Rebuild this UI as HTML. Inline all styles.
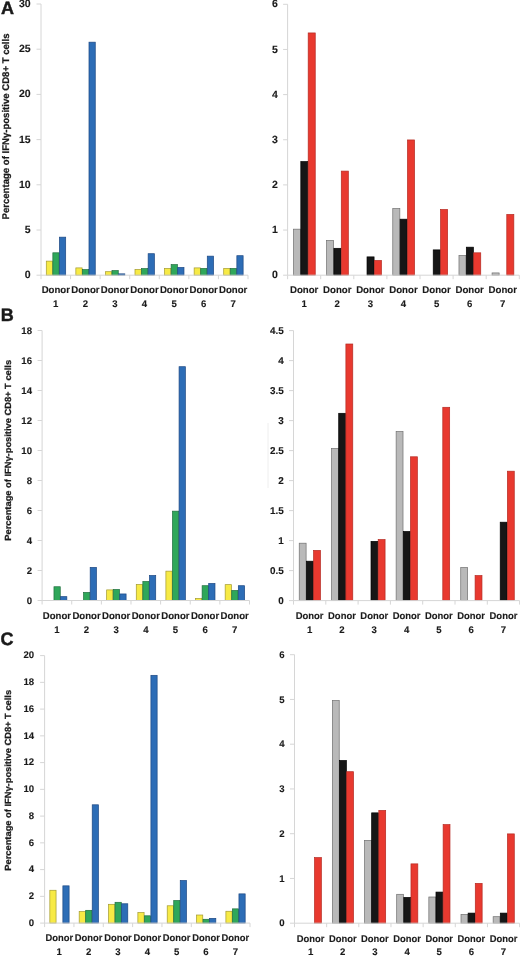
<!DOCTYPE html>
<html lang="en">
<head>
<meta charset="utf-8">
<title>IFN-gamma positive CD8+ T cells per donor</title>
<style>
html,body{margin:0;padding:0;background:#fff;}
body{width:520px;height:956px;overflow:hidden;}
svg{display:block;}
text{font-family:"Liberation Sans", sans-serif;fill:#1a1a1a;text-rendering:geometricPrecision;}
.b{font-weight:bold;stroke:#1a1a1a;stroke-width:0.12px;}
</style>
</head>
<body>
<svg width="520" height="956" viewBox="0 0 520 956">
<rect x="0" y="0" width="520" height="956" fill="#ffffff"/>
<g id="AL">
<rect x="46.28" y="261.12" width="6.27" height="14.08" fill="#f7ea45" stroke="#a39a30" stroke-width="0.7"/>
<rect x="52.85" y="252.8" width="6.27" height="22.4" fill="#2fa75a" stroke="#1f6e3e" stroke-width="0.7"/>
<rect x="59.42" y="237.16" width="6.27" height="38.04" fill="#2d6db6" stroke="#1d4883" stroke-width="0.7"/>
<rect x="75.85" y="267.9" width="6.27" height="7.3" fill="#f7ea45" stroke="#a39a30" stroke-width="0.7"/>
<rect x="82.42" y="269.61" width="6.27" height="5.59" fill="#2fa75a" stroke="#1f6e3e" stroke-width="0.7"/>
<rect x="88.99" y="42.17" width="6.27" height="233.03" fill="#2d6db6" stroke="#1d4883" stroke-width="0.7"/>
<rect x="105.42" y="271.69" width="6.27" height="3.51" fill="#f7ea45" stroke="#a39a30" stroke-width="0.7"/>
<rect x="111.99" y="270.61" width="6.27" height="4.59" fill="#2fa75a" stroke="#1f6e3e" stroke-width="0.7"/>
<rect x="118.56" y="273.86" width="6.27" height="1.34" fill="#2d6db6" stroke="#1d4883" stroke-width="0.7"/>
<rect x="134.99" y="269.43" width="6.27" height="5.77" fill="#f7ea45" stroke="#a39a30" stroke-width="0.7"/>
<rect x="141.56" y="268.62" width="6.27" height="6.58" fill="#2fa75a" stroke="#1f6e3e" stroke-width="0.7"/>
<rect x="148.14" y="253.7" width="6.27" height="21.5" fill="#2d6db6" stroke="#1d4883" stroke-width="0.7"/>
<rect x="164.56" y="268.44" width="6.27" height="6.76" fill="#f7ea45" stroke="#a39a30" stroke-width="0.7"/>
<rect x="171.14" y="264.64" width="6.27" height="10.56" fill="#2fa75a" stroke="#1f6e3e" stroke-width="0.7"/>
<rect x="177.71" y="267.44" width="6.27" height="7.76" fill="#2d6db6" stroke="#1d4883" stroke-width="0.7"/>
<rect x="194.14" y="267.9" width="6.27" height="7.3" fill="#f7ea45" stroke="#a39a30" stroke-width="0.7"/>
<rect x="200.71" y="268.44" width="6.27" height="6.76" fill="#2fa75a" stroke="#1f6e3e" stroke-width="0.7"/>
<rect x="207.28" y="256.14" width="6.27" height="19.06" fill="#2d6db6" stroke="#1d4883" stroke-width="0.7"/>
<rect x="223.71" y="268.44" width="6.27" height="6.76" fill="#f7ea45" stroke="#a39a30" stroke-width="0.7"/>
<rect x="230.28" y="268.44" width="6.27" height="6.76" fill="#2fa75a" stroke="#1f6e3e" stroke-width="0.7"/>
<rect x="236.85" y="255.69" width="6.27" height="19.51" fill="#2d6db6" stroke="#1d4883" stroke-width="0.7"/>
<path d="M41 4 V275.2 H248" fill="none" stroke="#d6d6d6" stroke-width="1"/>
<path d="M36.5 275.2H41M36.5 230H41M36.5 184.8H41M36.5 139.6H41M36.5 94.4H41M36.5 49.2H41M36.5 4H41M41 275.2V279.2M70.57 275.2V279.2M100.14 275.2V279.2M129.71 275.2V279.2M159.29 275.2V279.2M188.86 275.2V279.2M218.43 275.2V279.2M248 275.2V279.2" fill="none" stroke="#d6d6d6" stroke-width="1"/>
<text class="b" x="30.6" y="278.22" font-size="10.5" text-anchor="end">0</text>
<text class="b" x="30.6" y="233.02" font-size="10.5" text-anchor="end">5</text>
<text class="b" x="30.6" y="187.82" font-size="10.5" text-anchor="end">10</text>
<text class="b" x="30.6" y="142.62" font-size="10.5" text-anchor="end">15</text>
<text class="b" x="30.6" y="97.42" font-size="10.5" text-anchor="end">20</text>
<text class="b" x="30.6" y="52.22" font-size="10.5" text-anchor="end">25</text>
<text class="b" x="30.6" y="7.02" font-size="10.5" text-anchor="end">30</text>
<text class="b" x="55.79" y="293.2" font-size="9.9" text-anchor="middle" textLength="28.3" lengthAdjust="spacingAndGlyphs">Donor</text>
<text class="b" x="55.79" y="306.7" font-size="9.6" text-anchor="middle">1</text>
<text class="b" x="85.36" y="293.2" font-size="9.9" text-anchor="middle" textLength="28.3" lengthAdjust="spacingAndGlyphs">Donor</text>
<text class="b" x="85.36" y="306.7" font-size="9.6" text-anchor="middle">2</text>
<text class="b" x="114.93" y="293.2" font-size="9.9" text-anchor="middle" textLength="28.3" lengthAdjust="spacingAndGlyphs">Donor</text>
<text class="b" x="114.93" y="306.7" font-size="9.6" text-anchor="middle">3</text>
<text class="b" x="144.5" y="293.2" font-size="9.9" text-anchor="middle" textLength="28.3" lengthAdjust="spacingAndGlyphs">Donor</text>
<text class="b" x="144.5" y="306.7" font-size="9.6" text-anchor="middle">4</text>
<text class="b" x="174.07" y="293.2" font-size="9.9" text-anchor="middle" textLength="28.3" lengthAdjust="spacingAndGlyphs">Donor</text>
<text class="b" x="174.07" y="306.7" font-size="9.6" text-anchor="middle">5</text>
<text class="b" x="203.64" y="293.2" font-size="9.9" text-anchor="middle" textLength="28.3" lengthAdjust="spacingAndGlyphs">Donor</text>
<text class="b" x="203.64" y="306.7" font-size="9.6" text-anchor="middle">6</text>
<text class="b" x="233.21" y="293.2" font-size="9.9" text-anchor="middle" textLength="28.3" lengthAdjust="spacingAndGlyphs">Donor</text>
<text class="b" x="233.21" y="306.7" font-size="9.6" text-anchor="middle">7</text>
</g>
<g id="AR">
<rect x="293.47" y="229.17" width="7.06" height="46.03" fill="#b9b9b9" stroke="#707070" stroke-width="0.7"/>
<rect x="300.82" y="161.62" width="7.06" height="113.58" fill="#161616" stroke="#000000" stroke-width="0.7"/>
<rect x="308.18" y="32.94" width="7.06" height="242.26" fill="#e8392f" stroke="#b52a22" stroke-width="0.7"/>
<rect x="326.57" y="240.41" width="7.06" height="34.79" fill="#b9b9b9" stroke="#707070" stroke-width="0.7"/>
<rect x="333.92" y="248.31" width="7.06" height="26.89" fill="#161616" stroke="#000000" stroke-width="0.7"/>
<rect x="341.28" y="171.1" width="7.06" height="104.1" fill="#e8392f" stroke="#b52a22" stroke-width="0.7"/>
<rect x="367.02" y="256.89" width="7.06" height="18.31" fill="#161616" stroke="#000000" stroke-width="0.7"/>
<rect x="374.38" y="260.5" width="7.06" height="14.7" fill="#e8392f" stroke="#b52a22" stroke-width="0.7"/>
<rect x="392.77" y="208.58" width="7.06" height="66.62" fill="#b9b9b9" stroke="#707070" stroke-width="0.7"/>
<rect x="400.12" y="219.19" width="7.06" height="56.01" fill="#161616" stroke="#000000" stroke-width="0.7"/>
<rect x="407.48" y="139.95" width="7.06" height="135.25" fill="#e8392f" stroke="#b52a22" stroke-width="0.7"/>
<rect x="433.22" y="249.89" width="7.06" height="25.31" fill="#161616" stroke="#000000" stroke-width="0.7"/>
<rect x="440.58" y="209.48" width="7.06" height="65.72" fill="#e8392f" stroke="#b52a22" stroke-width="0.7"/>
<rect x="458.97" y="255.53" width="7.06" height="19.67" fill="#b9b9b9" stroke="#707070" stroke-width="0.7"/>
<rect x="466.32" y="247.18" width="7.06" height="28.02" fill="#161616" stroke="#000000" stroke-width="0.7"/>
<rect x="473.68" y="252.82" width="7.06" height="22.38" fill="#e8392f" stroke="#b52a22" stroke-width="0.7"/>
<rect x="492.07" y="272.92" width="7.06" height="2.28" fill="#b9b9b9" stroke="#707070" stroke-width="0.7"/>
<rect x="506.78" y="214.45" width="7.06" height="60.75" fill="#e8392f" stroke="#b52a22" stroke-width="0.7"/>
<path d="M287.6 4.3 V275.2 H519.3" fill="none" stroke="#d6d6d6" stroke-width="1"/>
<path d="M283.1 275.2H287.6M283.1 230.05H287.6M283.1 184.9H287.6M283.1 139.75H287.6M283.1 94.6H287.6M283.1 49.45H287.6M283.1 4.3H287.6M287.6 275.2V279.2M320.7 275.2V279.2M353.8 275.2V279.2M386.9 275.2V279.2M420 275.2V279.2M453.1 275.2V279.2M486.2 275.2V279.2M519.3 275.2V279.2" fill="none" stroke="#d6d6d6" stroke-width="1"/>
<text class="b" x="277.8" y="278.32" font-size="10.5" text-anchor="end">0</text>
<text class="b" x="277.8" y="233.17" font-size="10.5" text-anchor="end">1</text>
<text class="b" x="277.8" y="188.02" font-size="10.5" text-anchor="end">2</text>
<text class="b" x="277.8" y="142.87" font-size="10.5" text-anchor="end">3</text>
<text class="b" x="277.8" y="97.72" font-size="10.5" text-anchor="end">4</text>
<text class="b" x="277.8" y="52.57" font-size="10.5" text-anchor="end">5</text>
<text class="b" x="277.8" y="7.42" font-size="10.5" text-anchor="end">6</text>
<text class="b" x="304.15" y="293.2" font-size="9.8" text-anchor="middle" textLength="28.4" lengthAdjust="spacingAndGlyphs">Donor</text>
<text class="b" x="304.15" y="306.9" font-size="9.6" text-anchor="middle">1</text>
<text class="b" x="337.25" y="293.2" font-size="9.8" text-anchor="middle" textLength="28.4" lengthAdjust="spacingAndGlyphs">Donor</text>
<text class="b" x="337.25" y="306.9" font-size="9.6" text-anchor="middle">2</text>
<text class="b" x="370.35" y="293.2" font-size="9.8" text-anchor="middle" textLength="28.4" lengthAdjust="spacingAndGlyphs">Donor</text>
<text class="b" x="370.35" y="306.9" font-size="9.6" text-anchor="middle">3</text>
<text class="b" x="403.45" y="293.2" font-size="9.8" text-anchor="middle" textLength="28.4" lengthAdjust="spacingAndGlyphs">Donor</text>
<text class="b" x="403.45" y="306.9" font-size="9.6" text-anchor="middle">4</text>
<text class="b" x="436.55" y="293.2" font-size="9.8" text-anchor="middle" textLength="28.4" lengthAdjust="spacingAndGlyphs">Donor</text>
<text class="b" x="436.55" y="306.9" font-size="9.6" text-anchor="middle">5</text>
<text class="b" x="469.65" y="293.2" font-size="9.8" text-anchor="middle" textLength="28.4" lengthAdjust="spacingAndGlyphs">Donor</text>
<text class="b" x="469.65" y="306.9" font-size="9.6" text-anchor="middle">6</text>
<text class="b" x="502.75" y="293.2" font-size="9.8" text-anchor="middle" textLength="28.4" lengthAdjust="spacingAndGlyphs">Donor</text>
<text class="b" x="502.75" y="306.9" font-size="9.6" text-anchor="middle">7</text>
</g>
<g id="BL">
<rect x="53.97" y="586.75" width="6.28" height="13.75" fill="#2fa75a" stroke="#1f6e3e" stroke-width="0.7"/>
<rect x="60.56" y="596.65" width="6.28" height="3.85" fill="#2d6db6" stroke="#1d4883" stroke-width="0.7"/>
<rect x="83.6" y="592.45" width="6.28" height="8.05" fill="#2fa75a" stroke="#1f6e3e" stroke-width="0.7"/>
<rect x="90.18" y="567.4" width="6.28" height="33.1" fill="#2d6db6" stroke="#1d4883" stroke-width="0.7"/>
<rect x="106.65" y="589.9" width="6.28" height="10.6" fill="#f7ea45" stroke="#a39a30" stroke-width="0.7"/>
<rect x="113.23" y="589.45" width="6.28" height="11.05" fill="#2fa75a" stroke="#1f6e3e" stroke-width="0.7"/>
<rect x="119.81" y="593.95" width="6.28" height="6.55" fill="#2d6db6" stroke="#1d4883" stroke-width="0.7"/>
<rect x="136.27" y="584.5" width="6.28" height="16" fill="#f7ea45" stroke="#a39a30" stroke-width="0.7"/>
<rect x="142.86" y="581.5" width="6.28" height="19" fill="#2fa75a" stroke="#1f6e3e" stroke-width="0.7"/>
<rect x="149.44" y="575.5" width="6.28" height="25" fill="#2d6db6" stroke="#1d4883" stroke-width="0.7"/>
<rect x="165.9" y="571.15" width="6.28" height="29.35" fill="#f7ea45" stroke="#a39a30" stroke-width="0.7"/>
<rect x="172.49" y="511.15" width="6.28" height="89.35" fill="#2fa75a" stroke="#1f6e3e" stroke-width="0.7"/>
<rect x="179.07" y="366.7" width="6.28" height="233.8" fill="#2d6db6" stroke="#1d4883" stroke-width="0.7"/>
<rect x="195.53" y="598.45" width="6.28" height="2.05" fill="#f7ea45" stroke="#a39a30" stroke-width="0.7"/>
<rect x="202.12" y="585.7" width="6.28" height="14.8" fill="#2fa75a" stroke="#1f6e3e" stroke-width="0.7"/>
<rect x="208.7" y="583.45" width="6.28" height="17.05" fill="#2d6db6" stroke="#1d4883" stroke-width="0.7"/>
<rect x="225.16" y="584.65" width="6.28" height="15.85" fill="#f7ea45" stroke="#a39a30" stroke-width="0.7"/>
<rect x="231.74" y="590.5" width="6.28" height="10" fill="#2fa75a" stroke="#1f6e3e" stroke-width="0.7"/>
<rect x="238.33" y="585.7" width="6.28" height="14.8" fill="#2d6db6" stroke="#1d4883" stroke-width="0.7"/>
<path d="M42.1 330.5 V600.5 H249.5" fill="none" stroke="#d6d6d6" stroke-width="1"/>
<path d="M37.6 600.5H42.1M37.6 570.5H42.1M37.6 540.5H42.1M37.6 510.5H42.1M37.6 480.5H42.1M37.6 450.5H42.1M37.6 420.5H42.1M37.6 390.5H42.1M37.6 360.5H42.1M37.6 330.5H42.1M42.1 600.5V604.5M71.73 600.5V604.5M101.36 600.5V604.5M130.99 600.5V604.5M160.61 600.5V604.5M190.24 600.5V604.5M219.87 600.5V604.5M249.5 600.5V604.5" fill="none" stroke="#d6d6d6" stroke-width="1"/>
<text class="b" x="32" y="603.72" font-size="9.6" text-anchor="end">0</text>
<text class="b" x="32" y="573.72" font-size="9.6" text-anchor="end">2</text>
<text class="b" x="32" y="543.72" font-size="9.6" text-anchor="end">4</text>
<text class="b" x="32" y="513.72" font-size="9.6" text-anchor="end">6</text>
<text class="b" x="32" y="483.72" font-size="9.6" text-anchor="end">8</text>
<text class="b" x="32" y="453.72" font-size="9.6" text-anchor="end">10</text>
<text class="b" x="32" y="423.72" font-size="9.6" text-anchor="end">12</text>
<text class="b" x="32" y="393.72" font-size="9.6" text-anchor="end">14</text>
<text class="b" x="32" y="363.72" font-size="9.6" text-anchor="end">16</text>
<text class="b" x="32" y="333.72" font-size="9.6" text-anchor="end">18</text>
<text class="b" x="56.91" y="618.9" font-size="9.9" text-anchor="middle" textLength="28.2" lengthAdjust="spacingAndGlyphs">Donor</text>
<text class="b" x="56.91" y="632.5" font-size="9.6" text-anchor="middle">1</text>
<text class="b" x="86.54" y="618.9" font-size="9.9" text-anchor="middle" textLength="28.2" lengthAdjust="spacingAndGlyphs">Donor</text>
<text class="b" x="86.54" y="632.5" font-size="9.6" text-anchor="middle">2</text>
<text class="b" x="116.17" y="618.9" font-size="9.9" text-anchor="middle" textLength="28.2" lengthAdjust="spacingAndGlyphs">Donor</text>
<text class="b" x="116.17" y="632.5" font-size="9.6" text-anchor="middle">3</text>
<text class="b" x="145.8" y="618.9" font-size="9.9" text-anchor="middle" textLength="28.2" lengthAdjust="spacingAndGlyphs">Donor</text>
<text class="b" x="145.8" y="632.5" font-size="9.6" text-anchor="middle">4</text>
<text class="b" x="175.43" y="618.9" font-size="9.9" text-anchor="middle" textLength="28.2" lengthAdjust="spacingAndGlyphs">Donor</text>
<text class="b" x="175.43" y="632.5" font-size="9.6" text-anchor="middle">5</text>
<text class="b" x="205.06" y="618.9" font-size="9.9" text-anchor="middle" textLength="28.2" lengthAdjust="spacingAndGlyphs">Donor</text>
<text class="b" x="205.06" y="632.5" font-size="9.6" text-anchor="middle">6</text>
<text class="b" x="234.69" y="618.9" font-size="9.9" text-anchor="middle" textLength="28.2" lengthAdjust="spacingAndGlyphs">Donor</text>
<text class="b" x="234.69" y="632.5" font-size="9.6" text-anchor="middle">7</text>
</g>
<g id="BR">
<rect x="299.23" y="543.2" width="6.88" height="57.4" fill="#b9b9b9" stroke="#707070" stroke-width="0.7"/>
<rect x="306.41" y="561.2" width="6.88" height="39.4" fill="#161616" stroke="#000000" stroke-width="0.7"/>
<rect x="313.59" y="550.4" width="6.88" height="50.2" fill="#e8392f" stroke="#b52a22" stroke-width="0.7"/>
<rect x="331.53" y="448.4" width="6.88" height="152.2" fill="#b9b9b9" stroke="#707070" stroke-width="0.7"/>
<rect x="338.71" y="413.3" width="6.88" height="187.3" fill="#161616" stroke="#000000" stroke-width="0.7"/>
<rect x="345.89" y="344" width="6.88" height="256.6" fill="#e8392f" stroke="#b52a22" stroke-width="0.7"/>
<rect x="371.01" y="541.4" width="6.88" height="59.2" fill="#161616" stroke="#000000" stroke-width="0.7"/>
<rect x="378.19" y="539.6" width="6.88" height="61" fill="#e8392f" stroke="#b52a22" stroke-width="0.7"/>
<rect x="396.13" y="431.6" width="6.88" height="169" fill="#b9b9b9" stroke="#707070" stroke-width="0.7"/>
<rect x="403.31" y="531.5" width="6.88" height="69.1" fill="#161616" stroke="#000000" stroke-width="0.7"/>
<rect x="410.49" y="456.8" width="6.88" height="143.8" fill="#e8392f" stroke="#b52a22" stroke-width="0.7"/>
<rect x="442.79" y="407.3" width="6.88" height="193.3" fill="#e8392f" stroke="#b52a22" stroke-width="0.7"/>
<rect x="460.73" y="567.5" width="6.88" height="33.1" fill="#b9b9b9" stroke="#707070" stroke-width="0.7"/>
<rect x="475.09" y="575.6" width="6.88" height="25" fill="#e8392f" stroke="#b52a22" stroke-width="0.7"/>
<rect x="500.21" y="522.2" width="6.88" height="78.4" fill="#161616" stroke="#000000" stroke-width="0.7"/>
<rect x="507.39" y="471.2" width="6.88" height="129.4" fill="#e8392f" stroke="#b52a22" stroke-width="0.7"/>
<path d="M293.5 330.6 V600.6 H519.6" fill="none" stroke="#d6d6d6" stroke-width="1"/>
<path d="M289 600.6H293.5M289 570.6H293.5M289 540.6H293.5M289 510.6H293.5M289 480.6H293.5M289 450.6H293.5M289 420.6H293.5M289 390.6H293.5M289 360.6H293.5M289 330.6H293.5M293.5 600.6V604.6M325.8 600.6V604.6M358.1 600.6V604.6M390.4 600.6V604.6M422.7 600.6V604.6M455 600.6V604.6M487.3 600.6V604.6M519.6 600.6V604.6" fill="none" stroke="#d6d6d6" stroke-width="1"/>
<text class="b" x="283.7" y="603.92" font-size="9.9" text-anchor="end">0</text>
<text class="b" x="283.7" y="573.92" font-size="9.9" text-anchor="end">0.5</text>
<text class="b" x="283.7" y="543.92" font-size="9.9" text-anchor="end">1</text>
<text class="b" x="283.7" y="513.92" font-size="9.9" text-anchor="end">1.5</text>
<text class="b" x="283.7" y="483.92" font-size="9.9" text-anchor="end">2</text>
<text class="b" x="283.7" y="453.92" font-size="9.9" text-anchor="end">2.5</text>
<text class="b" x="283.7" y="423.92" font-size="9.9" text-anchor="end">3</text>
<text class="b" x="283.7" y="393.92" font-size="9.9" text-anchor="end">3.5</text>
<text class="b" x="283.7" y="363.92" font-size="9.9" text-anchor="end">4</text>
<text class="b" x="283.7" y="333.92" font-size="9.9" text-anchor="end">4.5</text>
<text class="b" x="309.65" y="618.9" font-size="9.8" text-anchor="middle" textLength="27.8" lengthAdjust="spacingAndGlyphs">Donor</text>
<text class="b" x="309.65" y="632.5" font-size="9.6" text-anchor="middle">1</text>
<text class="b" x="341.95" y="618.9" font-size="9.8" text-anchor="middle" textLength="27.8" lengthAdjust="spacingAndGlyphs">Donor</text>
<text class="b" x="341.95" y="632.5" font-size="9.6" text-anchor="middle">2</text>
<text class="b" x="374.25" y="618.9" font-size="9.8" text-anchor="middle" textLength="27.8" lengthAdjust="spacingAndGlyphs">Donor</text>
<text class="b" x="374.25" y="632.5" font-size="9.6" text-anchor="middle">3</text>
<text class="b" x="406.55" y="618.9" font-size="9.8" text-anchor="middle" textLength="27.8" lengthAdjust="spacingAndGlyphs">Donor</text>
<text class="b" x="406.55" y="632.5" font-size="9.6" text-anchor="middle">4</text>
<text class="b" x="438.85" y="618.9" font-size="9.8" text-anchor="middle" textLength="27.8" lengthAdjust="spacingAndGlyphs">Donor</text>
<text class="b" x="438.85" y="632.5" font-size="9.6" text-anchor="middle">5</text>
<text class="b" x="471.15" y="618.9" font-size="9.8" text-anchor="middle" textLength="27.8" lengthAdjust="spacingAndGlyphs">Donor</text>
<text class="b" x="471.15" y="632.5" font-size="9.6" text-anchor="middle">6</text>
<text class="b" x="503.45" y="618.9" font-size="9.8" text-anchor="middle" textLength="27.8" lengthAdjust="spacingAndGlyphs">Donor</text>
<text class="b" x="503.45" y="632.5" font-size="9.6" text-anchor="middle">7</text>
</g>
<g id="CL">
<rect x="49.84" y="890.26" width="6.22" height="32.84" fill="#f7ea45" stroke="#a39a30" stroke-width="0.7"/>
<rect x="62.88" y="885.85" width="6.22" height="37.25" fill="#2d6db6" stroke="#1d4883" stroke-width="0.7"/>
<rect x="79.18" y="911.53" width="6.22" height="11.57" fill="#f7ea45" stroke="#a39a30" stroke-width="0.7"/>
<rect x="85.7" y="910.33" width="6.22" height="12.77" fill="#2fa75a" stroke="#1f6e3e" stroke-width="0.7"/>
<rect x="92.22" y="804.8" width="6.22" height="118.3" fill="#2d6db6" stroke="#1d4883" stroke-width="0.7"/>
<rect x="108.53" y="904.31" width="6.22" height="18.79" fill="#f7ea45" stroke="#a39a30" stroke-width="0.7"/>
<rect x="115.05" y="902.3" width="6.22" height="20.8" fill="#2fa75a" stroke="#1f6e3e" stroke-width="0.7"/>
<rect x="121.57" y="903.77" width="6.22" height="19.33" fill="#2d6db6" stroke="#1d4883" stroke-width="0.7"/>
<rect x="137.87" y="912.6" width="6.22" height="10.5" fill="#f7ea45" stroke="#a39a30" stroke-width="0.7"/>
<rect x="144.39" y="915.81" width="6.22" height="7.29" fill="#2fa75a" stroke="#1f6e3e" stroke-width="0.7"/>
<rect x="150.91" y="675.33" width="6.22" height="247.77" fill="#2d6db6" stroke="#1d4883" stroke-width="0.7"/>
<rect x="167.21" y="905.78" width="6.22" height="17.32" fill="#f7ea45" stroke="#a39a30" stroke-width="0.7"/>
<rect x="173.73" y="900.56" width="6.22" height="22.54" fill="#2fa75a" stroke="#1f6e3e" stroke-width="0.7"/>
<rect x="180.25" y="880.5" width="6.22" height="42.6" fill="#2d6db6" stroke="#1d4883" stroke-width="0.7"/>
<rect x="196.55" y="915.01" width="6.22" height="8.09" fill="#f7ea45" stroke="#a39a30" stroke-width="0.7"/>
<rect x="203.08" y="919.29" width="6.22" height="3.81" fill="#2fa75a" stroke="#1f6e3e" stroke-width="0.7"/>
<rect x="209.6" y="918.35" width="6.22" height="4.75" fill="#2d6db6" stroke="#1d4883" stroke-width="0.7"/>
<rect x="225.9" y="911.26" width="6.22" height="11.84" fill="#f7ea45" stroke="#a39a30" stroke-width="0.7"/>
<rect x="232.42" y="908.86" width="6.22" height="14.25" fill="#2fa75a" stroke="#1f6e3e" stroke-width="0.7"/>
<rect x="238.94" y="893.88" width="6.22" height="29.23" fill="#2d6db6" stroke="#1d4883" stroke-width="0.7"/>
<path d="M44.6 655.6 V923.1 H250" fill="none" stroke="#d6d6d6" stroke-width="1"/>
<path d="M40.1 923.1H44.6M40.1 896.35H44.6M40.1 869.6H44.6M40.1 842.85H44.6M40.1 816.1H44.6M40.1 789.35H44.6M40.1 762.6H44.6M40.1 735.85H44.6M40.1 709.1H44.6M40.1 682.35H44.6M40.1 655.6H44.6M44.6 923.1V927.1M73.94 923.1V927.1M103.29 923.1V927.1M132.63 923.1V927.1M161.97 923.1V927.1M191.31 923.1V927.1M220.66 923.1V927.1M250 923.1V927.1" fill="none" stroke="#d6d6d6" stroke-width="1"/>
<text class="b" x="34.2" y="925.92" font-size="9.6" text-anchor="end">0</text>
<text class="b" x="34.2" y="899.17" font-size="9.6" text-anchor="end">2</text>
<text class="b" x="34.2" y="872.42" font-size="9.6" text-anchor="end">4</text>
<text class="b" x="34.2" y="845.67" font-size="9.6" text-anchor="end">6</text>
<text class="b" x="34.2" y="818.92" font-size="9.6" text-anchor="end">8</text>
<text class="b" x="34.2" y="792.17" font-size="9.6" text-anchor="end">10</text>
<text class="b" x="34.2" y="765.42" font-size="9.6" text-anchor="end">12</text>
<text class="b" x="34.2" y="738.67" font-size="9.6" text-anchor="end">14</text>
<text class="b" x="34.2" y="711.92" font-size="9.6" text-anchor="end">16</text>
<text class="b" x="34.2" y="685.17" font-size="9.6" text-anchor="end">18</text>
<text class="b" x="34.2" y="658.42" font-size="9.6" text-anchor="end">20</text>
<text class="b" x="59.27" y="941.4" font-size="9.8" text-anchor="middle" textLength="27.6" lengthAdjust="spacingAndGlyphs">Donor</text>
<text class="b" x="59.27" y="955" font-size="9.6" text-anchor="middle">1</text>
<text class="b" x="88.61" y="941.4" font-size="9.8" text-anchor="middle" textLength="27.6" lengthAdjust="spacingAndGlyphs">Donor</text>
<text class="b" x="88.61" y="955" font-size="9.6" text-anchor="middle">2</text>
<text class="b" x="117.96" y="941.4" font-size="9.8" text-anchor="middle" textLength="27.6" lengthAdjust="spacingAndGlyphs">Donor</text>
<text class="b" x="117.96" y="955" font-size="9.6" text-anchor="middle">3</text>
<text class="b" x="147.3" y="941.4" font-size="9.8" text-anchor="middle" textLength="27.6" lengthAdjust="spacingAndGlyphs">Donor</text>
<text class="b" x="147.3" y="955" font-size="9.6" text-anchor="middle">4</text>
<text class="b" x="176.64" y="941.4" font-size="9.8" text-anchor="middle" textLength="27.6" lengthAdjust="spacingAndGlyphs">Donor</text>
<text class="b" x="176.64" y="955" font-size="9.6" text-anchor="middle">5</text>
<text class="b" x="205.99" y="941.4" font-size="9.8" text-anchor="middle" textLength="27.6" lengthAdjust="spacingAndGlyphs">Donor</text>
<text class="b" x="205.99" y="955" font-size="9.6" text-anchor="middle">6</text>
<text class="b" x="235.33" y="941.4" font-size="9.8" text-anchor="middle" textLength="27.6" lengthAdjust="spacingAndGlyphs">Donor</text>
<text class="b" x="235.33" y="955" font-size="9.6" text-anchor="middle">7</text>
</g>
<g id="CR">
<rect x="314.5" y="857.62" width="6.85" height="65.58" fill="#e8392f" stroke="#b52a22" stroke-width="0.7"/>
<rect x="332.37" y="700.55" width="6.85" height="222.66" fill="#b9b9b9" stroke="#707070" stroke-width="0.7"/>
<rect x="339.51" y="760.51" width="6.85" height="162.69" fill="#161616" stroke="#000000" stroke-width="0.7"/>
<rect x="346.66" y="771.7" width="6.85" height="151.5" fill="#e8392f" stroke="#b52a22" stroke-width="0.7"/>
<rect x="364.52" y="840.39" width="6.85" height="82.81" fill="#b9b9b9" stroke="#707070" stroke-width="0.7"/>
<rect x="371.67" y="812.87" width="6.85" height="110.33" fill="#161616" stroke="#000000" stroke-width="0.7"/>
<rect x="378.82" y="810.41" width="6.85" height="112.79" fill="#e8392f" stroke="#b52a22" stroke-width="0.7"/>
<rect x="396.68" y="894.31" width="6.85" height="28.89" fill="#b9b9b9" stroke="#707070" stroke-width="0.7"/>
<rect x="403.83" y="897.45" width="6.85" height="25.75" fill="#161616" stroke="#000000" stroke-width="0.7"/>
<rect x="410.97" y="863.88" width="6.85" height="59.32" fill="#e8392f" stroke="#b52a22" stroke-width="0.7"/>
<rect x="428.84" y="897" width="6.85" height="26.2" fill="#b9b9b9" stroke="#707070" stroke-width="0.7"/>
<rect x="435.98" y="892.08" width="6.85" height="31.12" fill="#161616" stroke="#000000" stroke-width="0.7"/>
<rect x="443.13" y="824.64" width="6.85" height="98.56" fill="#e8392f" stroke="#b52a22" stroke-width="0.7"/>
<rect x="461" y="914.45" width="6.85" height="8.75" fill="#b9b9b9" stroke="#707070" stroke-width="0.7"/>
<rect x="468.14" y="913.11" width="6.85" height="10.09" fill="#161616" stroke="#000000" stroke-width="0.7"/>
<rect x="475.29" y="883.39" width="6.85" height="39.81" fill="#e8392f" stroke="#b52a22" stroke-width="0.7"/>
<rect x="493.15" y="916.69" width="6.85" height="6.51" fill="#b9b9b9" stroke="#707070" stroke-width="0.7"/>
<rect x="500.3" y="913.11" width="6.85" height="10.09" fill="#161616" stroke="#000000" stroke-width="0.7"/>
<rect x="507.44" y="833.9" width="6.85" height="89.3" fill="#e8392f" stroke="#b52a22" stroke-width="0.7"/>
<path d="M294.5 654.7 V923.2 H519.6" fill="none" stroke="#d6d6d6" stroke-width="1"/>
<path d="M290 923.2H294.5M290 878.45H294.5M290 833.7H294.5M290 788.95H294.5M290 744.2H294.5M290 699.45H294.5M290 654.7H294.5M294.5 923.2V927.2M326.66 923.2V927.2M358.81 923.2V927.2M390.97 923.2V927.2M423.13 923.2V927.2M455.29 923.2V927.2M487.44 923.2V927.2M519.6 923.2V927.2" fill="none" stroke="#d6d6d6" stroke-width="1"/>
<text class="b" x="284.6" y="926.42" font-size="9.6" text-anchor="end">0</text>
<text class="b" x="284.6" y="881.67" font-size="9.6" text-anchor="end">1</text>
<text class="b" x="284.6" y="836.92" font-size="9.6" text-anchor="end">2</text>
<text class="b" x="284.6" y="792.17" font-size="9.6" text-anchor="end">3</text>
<text class="b" x="284.6" y="747.42" font-size="9.6" text-anchor="end">4</text>
<text class="b" x="284.6" y="702.67" font-size="9.6" text-anchor="end">5</text>
<text class="b" x="284.6" y="657.92" font-size="9.6" text-anchor="end">6</text>
<text class="b" x="310.58" y="941.6" font-size="9.8" text-anchor="middle" textLength="27.6" lengthAdjust="spacingAndGlyphs">Donor</text>
<text class="b" x="310.58" y="955.2" font-size="9.6" text-anchor="middle">1</text>
<text class="b" x="342.74" y="941.6" font-size="9.8" text-anchor="middle" textLength="27.6" lengthAdjust="spacingAndGlyphs">Donor</text>
<text class="b" x="342.74" y="955.2" font-size="9.6" text-anchor="middle">2</text>
<text class="b" x="374.89" y="941.6" font-size="9.8" text-anchor="middle" textLength="27.6" lengthAdjust="spacingAndGlyphs">Donor</text>
<text class="b" x="374.89" y="955.2" font-size="9.6" text-anchor="middle">3</text>
<text class="b" x="407.05" y="941.6" font-size="9.8" text-anchor="middle" textLength="27.6" lengthAdjust="spacingAndGlyphs">Donor</text>
<text class="b" x="407.05" y="955.2" font-size="9.6" text-anchor="middle">4</text>
<text class="b" x="439.21" y="941.6" font-size="9.8" text-anchor="middle" textLength="27.6" lengthAdjust="spacingAndGlyphs">Donor</text>
<text class="b" x="439.21" y="955.2" font-size="9.6" text-anchor="middle">5</text>
<text class="b" x="471.36" y="941.6" font-size="9.8" text-anchor="middle" textLength="27.6" lengthAdjust="spacingAndGlyphs">Donor</text>
<text class="b" x="471.36" y="955.2" font-size="9.6" text-anchor="middle">6</text>
<text class="b" x="503.52" y="941.6" font-size="9.8" text-anchor="middle" textLength="27.6" lengthAdjust="spacingAndGlyphs">Donor</text>
<text class="b" x="503.52" y="955.2" font-size="9.6" text-anchor="middle">7</text>
</g>
<path d="M268 423V488" stroke="#eeeeee" stroke-width="1" fill="none"/>
<text class="b" x="0.9" y="14.3" font-size="18" fill="#111" style="stroke-width:0.45px">A</text>
<text class="b" x="0.7" y="320.7" font-size="18" fill="#111" style="stroke-width:0.45px">B</text>
<text class="b" x="0.5" y="645.3" font-size="18" fill="#111" style="stroke-width:0.45px">C</text>
<text class="b" style="stroke-width:0.25px" transform="translate(8.9 126.5) rotate(-90)" font-size="9.7" text-anchor="middle" textLength="186" lengthAdjust="spacingAndGlyphs">Percentage of IFNγ-positive CD8+ T cells</text>
<text class="b" style="stroke-width:0.25px" transform="translate(10.5 450.3) rotate(-90)" font-size="8.9" text-anchor="middle" textLength="180.8" lengthAdjust="spacingAndGlyphs">Percentage of IFNγ-positive CD8+ T cells</text>
<text class="b" style="stroke-width:0.25px" transform="translate(10.5 780.3) rotate(-90)" font-size="8.9" text-anchor="middle" textLength="180.8" lengthAdjust="spacingAndGlyphs">Percentage of IFNγ-positive CD8+ T cells</text>
</svg>
</body>
</html>
